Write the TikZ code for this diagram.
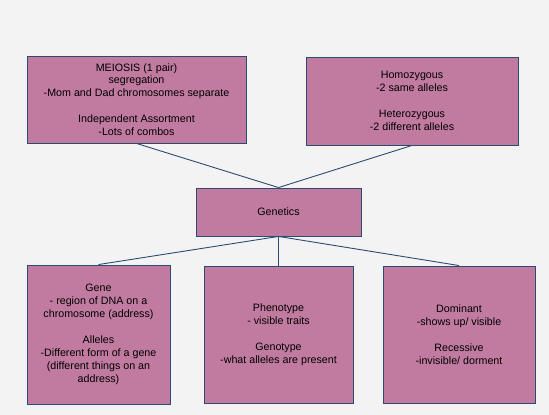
\documentclass[tikz,border=0pt]{standalone}
\usepackage{fontspec}
\setmainfont{Liberation Sans}
\definecolor{boxfill}{HTML}{C27BA0}
\definecolor{boxline}{HTML}{2B4C6F}
\definecolor{pagebg}{HTML}{F3F3F3}
\tikzset{
    topic/.style={draw=boxline, line width=0.9pt, fill=boxfill, align=center,
        inner sep=2pt, font=\fontsize{10.7}{12.9}\selectfont},
    link/.style={draw=boxline, line width=0.9pt}
}
\begin{document}
\begin{tikzpicture}[x=1pt,y=1pt]
                    \fill[pagebg] (0,0) rectangle (549,415);
                    \useasboundingbox (0,0) rectangle (549,415);

                    \node[topic, minimum width=219, minimum height=87] (meiosis) at (136.5,315.5)
                        {MEIOSIS (1 pair)\\segregation\\-Mom and Dad chromosomes separate\\[12.9pt]Independent Assortment\\-Lots of combos};
                    \node[topic, minimum width=212, minimum height=88] (zygous) at (412,314)
                        {Homozygous\\-2 same alleles\\[12.9pt]Heterozygous\\-2 different alleles};

                    \node[topic, minimum width=165, minimum height=48] (genetics) at (278.5,203) {Genetics};

                    \node[topic, minimum width=143, minimum height=139] (gene) at (98.5,80.5)
                        {Gene\\- region of DNA on a\\chromosome (address)\\[12.9pt]Alleles\\-Different form of a gene\\(different things on an\\address)};
                    \node[topic, minimum width=149, minimum height=137] (pheno) at (278.5,80.5)
                        {Phenotype\\- visible traits\\[12.9pt]Genotype\\-what alleles are present};
                    \node[topic, minimum width=152, minimum height=137] (dominant) at (459,80.5)
                        {Dominant\\-shows up/ visible\\[12.9pt]Recessive\\-invisible/ dorment};

                    % links
                    \draw[link] (meiosis.south) -- (genetics.north);
                    \draw[link] (zygous.south) -- (genetics.north);
                    \draw[link] (genetics.south) -- (gene.north);
                    \draw[link] (genetics.south) -- (pheno.north);
                    \draw[link] (genetics.south) -- (dominant.north);

\end{tikzpicture}
\end{document}
